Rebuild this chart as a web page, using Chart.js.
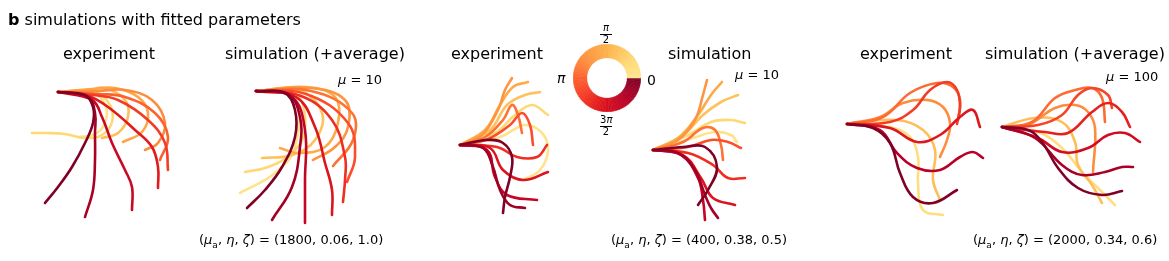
<!DOCTYPE html>
<html>
<head>
<meta charset="utf-8">
<script src="https://cdn.jsdelivr.net/npm/chart.js@4.4.1/dist/chart.umd.min.js"></script>
<style>
  body { margin: 0; background: #fff; }
  #wrap { position: relative; width: 1169px; height: 261px; overflow: hidden; font-family: 'DejaVu Sans', sans-serif; color: #000; }
  .t { position: absolute; white-space: nowrap; line-height: 16px; }
  .h { font-size: 16px; }
  .m { font-size: 13px; line-height: 13px; }
  .frac { position: absolute; font-size: 10px; line-height: 10px; text-align: center; width: 20px; }
  .frac span { display: block; }
  .frac .num { border-bottom: 1px solid #000; margin: 0 4px; padding-bottom: 1px; }
  canvas { position: absolute; }
</style>
</head>
<body>
<div id="wrap">
  <canvas id="curves" width="1169" height="261" style="left:0;top:0"></canvas>
  <canvas id="wheel" width="68" height="68" style="left:573px;top:44px"></canvas>

  <div class="t h" style="left:8px;top:12px"><b>b</b> simulations with fitted parameters</div>

  <div class="t h" style="left:63px;top:46px">experiment</div>
  <div class="t h" style="left:225px;top:46px">simulation (+average)</div>
  <div class="t m" style="left:338px;top:73px"><i>μ</i> = 10</div>
  <div class="t m" style="left:199px;top:233px">(<i>μ</i><sub style="font-size:9px">a</sub>, <i>η</i>, <i>ζ</i>) = (1800, 0.06, 1.0)</div>

  <div class="t h" style="left:451px;top:46px">experiment</div>
  <div class="t h" style="left:668px;top:46px">simulation</div>
  <div class="t m" style="left:735px;top:68px"><i>μ</i> = 10</div>
  <div class="t m" style="left:611px;top:233px">(<i>μ</i><sub style="font-size:9px">a</sub>, <i>η</i>, <i>ζ</i>) = (400, 0.38, 0.5)</div>

  <div class="t h" style="left:860px;top:46px">experiment</div>
  <div class="t h" style="left:985px;top:46px">simulation (+average)</div>
  <div class="t m" style="left:1106px;top:70px"><i>μ</i> = 100</div>
  <div class="t m" style="left:973px;top:233px">(<i>μ</i><sub style="font-size:9px">a</sub>, <i>η</i>, <i>ζ</i>) = (2000, 0.34, 0.6)</div>

  <div class="frac" style="left:596px;top:23px"><span class="num"><i>π</i></span><span>2</span></div>
  <div class="frac" style="left:596px;top:115px"><span class="num">3<i>π</i></span><span>2</span></div>
  <div class="t" style="left:557px;top:70px;font-size:14px"><i>π</i></div>
  <div class="t" style="left:647px;top:72px;font-size:14px">0</div>
</div>

<script>
// phase of each filament (fraction of a beat cycle) and its shape,
// points are [dx, dy] from the clamped end, dy pointing down
const panel1Phases = [1.0, 0.9, 0.8, 0.7, 0.6, 0.5, 0.4, 0.3, 0.2, 0.1, 0.02];
const panel1Curves = [
  [[0,0],[27,3],[35,15],[35,31],[27,51],[14,75],[0,95],[-13,111]],
  [[0,0],[30,5],[37,21],[37,41],[37,68],[35,98],[27,125]],
  [[0,0],[34,8],[44,25],[54,51],[67,78],[74,95],[74,118]],
  [[0,0],[30,4],[50,15],[77,38],[94,55],[100,75],[100,96]],
  [[0,0],[35,3],[60,8],[90,28],[107,51],[110,78]],
  [[0,0],[40,2],[67,5],[97,21],[110,45],[102,68]],
  [[0,0],[40,-1],[67,-2],[94,8],[107,31],[100,51],[87,58]],
  [[0,0],[35,-3],[57,-4],[80,5],[90,21],[84,40],[65,50]],
  [[0,0],[30,-2],[47,-4],[67,8],[70,25],[60,41],[44,46]],
  [[0,0],[37,0],[52,13],[54,30],[44,43],[27,46],[7,42],[-13,41],[-26,41]],
  [[0,0],[35,1],[48,15],[46,33],[35,43],[20,45]]
];

const panel2Phases = [1.0, 0.91, 0.82, 0.73, 0.64, 0.55, 0.46, 0.37, 0.28, 0.19, 0.1, 0.02];
const panel2Curves = [
  [[0,0],[29,2],[39,19],[39,46],[26,76],[9,99],[-9,117]],
  [[0,0],[32,3],[44,26],[44,56],[36,96],[16,129]],
  [[0,0],[36,6],[49,39],[49,89],[49,132]],
  [[0,0],[40,6],[59,36],[69,72],[76,99],[76,124]],
  [[0,0],[45,5],[76,29],[89,66],[89,89],[87,111]],
  [[0,0],[50,3],[92,32],[99,66],[91,91]],
  [[0,0],[55,0],[96,22],[97,49],[77,75]],
  [[0,0],[55,-3],[89,9],[92,36],[79,56],[57,69]],
  [[0,0],[50,-4],[79,6],[82,32],[69,56],[42,62],[24,57]],
  [[0,0],[42,-1],[66,22],[59,49],[36,64],[6,67]],
  [[0,0],[40,3],[49,39],[36,62],[12,76],[-11,81]],
  [[0,0],[38,8],[39,56],[19,82],[-16,102]]
];

const panel3Phases = [1.0, 0.91, 0.82, 0.73, 0.64, 0.55, 0.46, 0.37, 0.28, 0.19, 0.1, 0.02];
const panel3Curves = [
  [[0,0],[27,-5],[43,-2],[52,12],[50,32],[45,52],[43,68]],
  [[0,0],[23,3],[33,22],[40,45],[50,60],[65,63]],
  [[0,0],[27,5],[35,32],[47,50],[77,55]],
  [[0,0],[30,3],[43,25],[63,35],[88,27]],
  [[0,0],[37,2],[57,12],[77,12],[87,0]],
  [[0,0],[28,-6],[50,-20],[62,-32],[70,-20],[73,0]],
  [[0,0],[25,-8],[43,-25],[52,-40],[58,-30],[62,-12]],
  [[0,0],[22,-10],[38,-35],[45,-55],[52,-67]],
  [[0,0],[25,-15],[40,-40],[53,-58],[68,-63]],
  [[0,0],[30,-15],[47,-40],[65,-50],[80,-53]],
  [[0,0],[35,-12],[55,-30],[72,-40],[88,-30]],
  [[0,0],[40,-8],[65,-20],[82,-12],[88,5],[80,25],[63,35]]
];

const panel4Phases = [1.0, 0.91, 0.82, 0.73, 0.64, 0.55, 0.46, 0.37, 0.28, 0.19, 0.1, 0.02];
const panel4Curves = [
  [[0,0],[30,-3],[52,-3],[64,17],[55,40],[45,55]],
  [[0,0],[25,3],[42,20],[52,45],[58,58],[65,68]],
  [[0,0],[28,5],[45,28],[50,50],[52,70]],
  [[0,0],[30,5],[48,28],[60,48],[82,55]],
  [[0,0],[35,3],[60,15],[75,28],[92,28]],
  [[0,0],[35,-3],[58,-10],[75,-8],[88,-2]],
  [[0,0],[30,-8],[50,-22],[62,-20],[68,-5],[70,10]],
  [[0,0],[25,-10],[42,-30],[50,-55],[54,-70]],
  [[0,0],[25,-12],[45,-35],[58,-55],[69,-68]],
  [[0,0],[30,-15],[50,-35],[68,-48],[85,-55]],
  [[0,0],[35,-15],[58,-28],[78,-30],[92,-27]],
  [[0,0],[40,-12],[62,-18],[78,-15],[84,-8],[82,-10]]
];

const panel5Phases = [1.0, 0.86, 0.72, 0.6, 0.48, 0.4, 0.2, 0.06];
const panel5Curves = [
  [[0,0],[26,4],[43,19],[53,49],[66,73],[86,79],[110,66]],
  [[0,0],[33,6],[50,29],[70,44],[93,46],[113,33],[126,28],[136,34]],
  [[0,0],[43,4],[70,18],[93,11],[113,-7],[126,-14],[133,3]],
  [[0,0],[43,-2],[66,-14],[83,-34],[100,-42],[110,-34],[113,-17],[110,0]],
  [[0,0],[36,-7],[63,-31],[90,-41],[106,-37],[113,-24],[111,-4]],
  [[0,0],[33,-7],[56,-21],[80,-24],[96,-17],[103,-1],[100,16],[93,33]],
  [[0,0],[50,-4],[76,6],[88,26],[86,56],[93,76]],
  [[0,0],[43,3],[63,13],[71,33],[71,59],[76,86],[96,91]]
];

const panel6Phases = [1.0, 0.9, 0.78, 0.68, 0.58, 0.48, 0.4, 0.2, 0.06];
const panel6Curves = [
  [[0,0],[26,3],[40,15],[56,41],[76,61],[100,68],[120,64]],
  [[0,0],[33,11],[60,38],[80,48],[103,45],[120,40],[131,40]],
  [[0,0],[36,11],[60,25],[86,21],[106,8],[123,6],[138,15]],
  [[0,0],[43,5],[66,6],[90,-15],[106,-24],[120,-15],[128,0]],
  [[0,0],[36,-2],[60,-12],[76,-32],[90,-39],[106,-32],[110,-19]],
  [[0,0],[30,-5],[53,-29],[73,-37],[90,-39],[100,-29],[103,-5]],
  [[0,0],[26,-2],[53,-19],[73,-22],[86,-15],[93,1],[91,45]],
  [[0,0],[33,-9],[60,-5],[73,15],[76,38],[90,58],[100,76]],
  [[0,0],[36,5],[60,21],[80,45],[100,65],[113,78]]
];

const wheelSegments = 120;

// layout: where the clamped end of each panel sits on the page
const panelBases = [[58,92],[256,91],[460,145],[653,150],[847,124],[1002,127]];
const panels = [
  [panel1Phases, panel1Curves], [panel2Phases, panel2Curves], [panel3Phases, panel3Curves],
  [panel4Phases, panel4Curves], [panel5Phases, panel5Curves], [panel6Phases, panel6Curves]
];

// YlOrRd colormap
const ylorrd = [
  [0,255,255,204],[0.125,255,237,160],[0.25,254,217,118],[0.375,254,178,76],
  [0.5,253,141,60],[0.625,252,78,42],[0.75,227,26,28],[0.875,189,0,38],[1,128,0,38]
];
function cmap(v) {
  v = Math.max(0, Math.min(1, v));
  for (let i = 1; i < ylorrd.length; i++) {
    if (v <= ylorrd[i][0]) {
      const a = ylorrd[i-1], b = ylorrd[i];
      const k = (v - a[0]) / (b[0] - a[0]);
      const c = [1,2,3].map(j => Math.round(a[j] + (b[j]-a[j])*k));
      return 'rgb(' + c.join(',') + ')';
    }
  }
  return 'rgb(128,0,38)';
}
function phaseColor(f) { return cmap(0.17 + 0.83 * f); }

const datasets = [];
panels.forEach((p, pi) => {
  const base = panelBases[pi];
  p[1].forEach((curve, ci) => {
    const f = p[0][ci];
    datasets.push({
      data: curve.map(pt => ({ x: base[0] + pt[0], y: base[1] + pt[1] })),
      showLine: true,
      borderColor: phaseColor(f),
      borderWidth: 2.6,
      borderCapStyle: 'round',
      borderJoinStyle: 'round',
      pointRadius: 0,
      tension: 0.4,
      order: Math.round((1 - f) * 100)
    });
  });
});

new Chart(document.getElementById('curves'), {
  type: 'scatter',
  data: { datasets: datasets },
  options: {
    responsive: false,
    animation: false,
    layout: { padding: 0 },
    plugins: { legend: { display: false }, tooltip: { enabled: false } },
    scales: {
      x: { type: 'linear', min: 0, max: 1169, display: false },
      y: { type: 'linear', min: 0, max: 261, reverse: true, display: false }
    }
  }
});

// colour wheel: phase 0 at the right, going counter-clockwise
const wheelData = [], wheelColors = [];
for (let i = 0; i < wheelSegments; i++) {
  const f = 1 - (i + 0.5) / wheelSegments;
  wheelData.push(1);
  wheelColors.push(phaseColor(f));
}
new Chart(document.getElementById('wheel'), {
  type: 'doughnut',
  data: { datasets: [{ data: wheelData, backgroundColor: wheelColors, borderColor: wheelColors, borderWidth: 0.6 }] },
  options: {
    responsive: false,
    animation: false,
    rotation: 90,
    cutout: '60%',
    layout: { padding: 0 },
    plugins: { legend: { display: false }, tooltip: { enabled: false } }
  }
});
</script>
</body>
</html>
